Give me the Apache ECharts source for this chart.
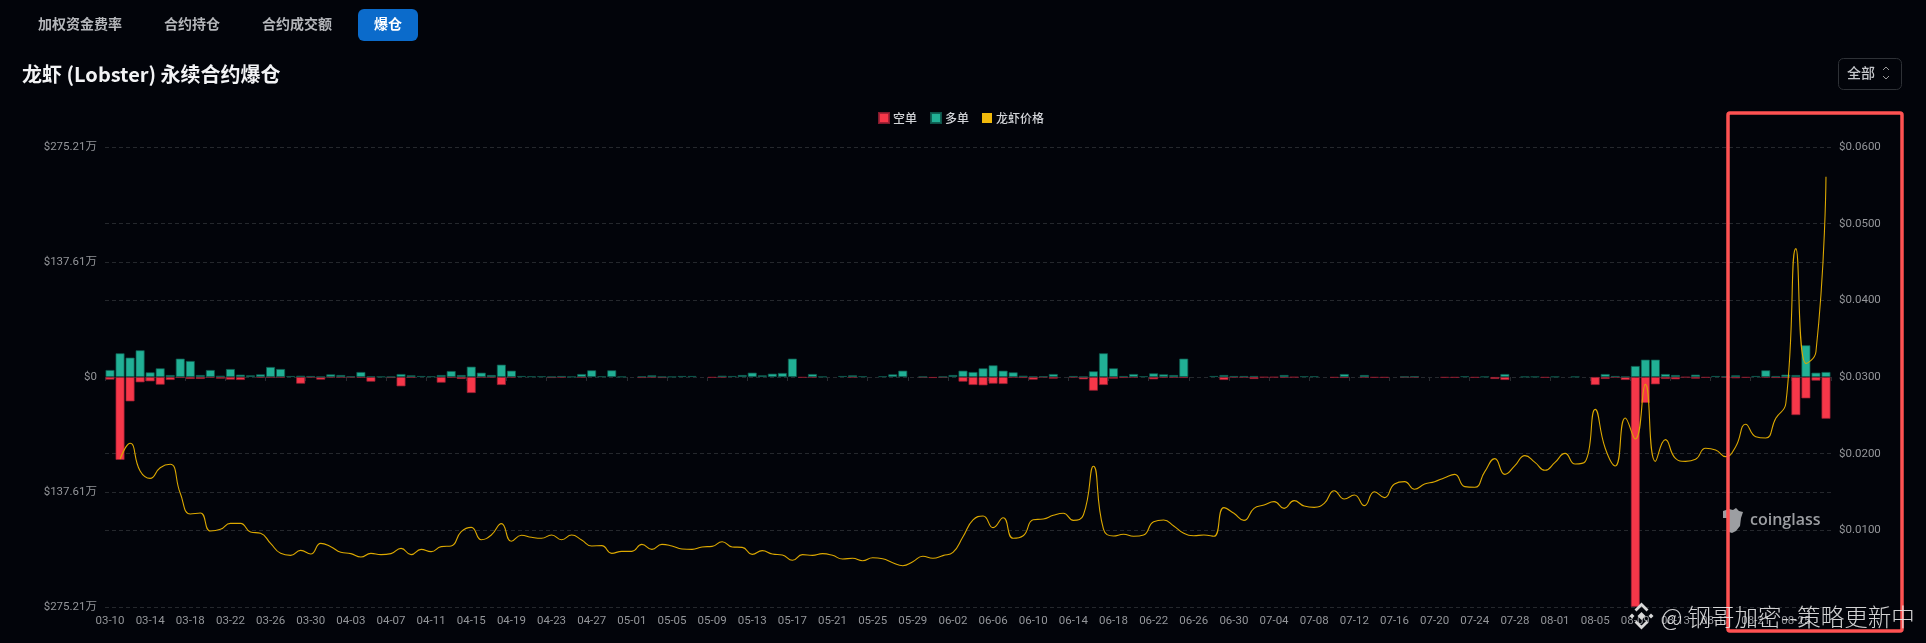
<!DOCTYPE html>
<html><head><meta charset="utf-8">
<style>html,body{margin:0;padding:0;background:#02040a;overflow:hidden}#c{width:1926px;height:643px}</style>
<script src="https://cdn.jsdelivr.net/npm/echarts@6/dist/echarts.min.js"></script>
</head><body><div id="c"></div>
<script>
const dates = ['03-10','03-11','03-12','03-13','03-14','03-15','03-16','03-17','03-18','03-19','03-20','03-21','03-22','03-23','03-24','03-25','03-26','03-27','03-28','03-29','03-30','03-31',
'04-01','04-02','04-03','04-04','04-05','04-06','04-07','04-08','04-09','04-10','04-11','04-12','04-13','04-14','04-15','04-16','04-17','04-18','04-19','04-20','04-21','04-22','04-23','04-24','04-25','04-26','04-27','04-28','04-29','04-30',
'05-01','05-02','05-03','05-04','05-05','05-06','05-07','05-08','05-09','05-10','05-11','05-12','05-13','05-14','05-15','05-16','05-17','05-18','05-19','05-20','05-21','05-22','05-23','05-24','05-25','05-26','05-27','05-28','05-29','05-30','05-31',
'06-01','06-02','06-03','06-04','06-05','06-06','06-07','06-08','06-09','06-10','06-11','06-12','06-13','06-14','06-15','06-16','06-17','06-18','06-19','06-20','06-21','06-22','06-23','06-24','06-25','06-26','06-27','06-28','06-29','06-30',
'07-01','07-02','07-03','07-04','07-05','07-06','07-07','07-08','07-09','07-10','07-11','07-12','07-13','07-14','07-15','07-16','07-17','07-18','07-19','07-20','07-21','07-22','07-23','07-24','07-25','07-26','07-27','07-28','07-29','07-30','07-31',
'08-01','08-02','08-03','08-04','08-05','08-06','08-07','08-08','08-09','08-10','08-11','08-12','08-13','08-14','08-15','08-16','08-17','08-18','08-19','08-20','08-21','08-22','08-23','08-24','08-25','08-26','08-27','08-28'];

// 单位：万美元
const shortLiq = [3.2,99.2,29.2,6.4,5.2,9.2,3.6,1.2,2.4,2.4,.8,2,3.2,3.6,0,.8,.4,.4,0,8,
.4,3.2,.4,.4,.4,.8,5.6,0,1.2,11.2,.8,0,0,6.8,.8,2.4,19.2,.4,.4,9.6,
.4,0,0,0,1.2,.4,0,.4,0,0,0,0,0,1.2,.4,1.2,0,0,0,0,
.8,.4,0,0,0,0,0,0,0,.8,.4,0,0,0,.4,0,0,0,0,0,
0,.8,1.2,.8,0,5.6,9.6,10,8,8.4,.4,1.2,3.2,.4,2,0,.4,2.8,16.4,9.6,
2,1.2,.4,0,2.8,.8,.8,1.2,0,0,0,3.6,.4,.4,2.4,.4,.4,.8,.4,0,
0,0,.8,1.2,0,.4,.8,.8,0,.4,.4,0,0,.8,.8,0,.8,0,2.4,3.6,
0,0,0,.8,0,0,0,0,9.6,2.4,.4,3.6,275,31,8.8,2.4,2.8,.4,2,.8,
0,.4,1.6,.8,0,.4,1.2,1.2,45.6,25.6,4.4,50];

const longLiq = [8.4,28.4,23.2,32,5.6,10.4,2.4,22,19.2,2.4,8.4,1.6,9.6,2.8,2,3.2,12,9.6,1.2,1.6,
1.2,.4,3.2,2.4,.8,6,.8,.4,.4,3.6,2,1.2,.8,2.4,7.2,2.4,12.4,5.2,2.4,14.8,
7.6,1.2,.8,.8,.4,1.2,.4,3.6,8,.8,8,.4,0,.8,2,.4,.4,1.2,1.2,0,
0,1.6,1.2,2.4,5.2,2,4,4.8,22,0,3.6,.4,0,1.2,2,.8,0,.8,3.2,7.6,
0,.4,0,.4,2.4,7.6,6,10.4,14,7.6,5.6,1.6,.8,.8,3.6,0,1.2,.4,6.8,28.4,
10.4,1.2,3.6,.8,4.4,3.2,2.4,22,0,0,1.2,2.4,1.2,1.2,1.2,0,0,2.4,0,.8,
.8,0,0,3.6,0,2.4,0,0,0,.4,.8,0,0,0,0,.8,0,.4,0,3.6,
0,.4,.4,0,.4,0,.4,0,0,3.6,1.2,.4,13.2,20.8,20.8,3.6,2.4,0,2.8,0,
1.2,.8,2,0,1.2,8,1.2,2.8,2.4,38,5.2,6];

const price = [null,.01930,.02135,.01774,.01678,.01817,.01861,.01483,.01213,.01226,.00991,.01013,.01091,.01091,.00978,.00961,.00830,.00700,.00674,.00739,
.00691,.00830,.00787,.00713,.00696,.00652,.00700,.00683,.00696,.00765,.00683,.00752,.00722,.00787,.00796,.00983,.01039,.00878,.00939,.01087,
.00857,.00935,.00909,.00896,.00939,.00878,.00939,.00874,.00796,.00800,.00700,.00726,.00726,.00817,.00752,.00817,.00796,.00757,.00752,.00783,
.00791,.00852,.00783,.00778,.00687,.00735,.00691,.00678,.00609,.00683,.00674,.00696,.00674,.00626,.00635,.00604,.00643,.00630,.00578,.00539,
.00591,.00661,.00635,.00670,.00713,.00917,.01135,.01187,.01035,.01165,.00896,.00930,.01139,.01148,.01196,.01222,.01130,.01200,.01835,.01017,
.00926,.00948,.00922,.00939,.01113,.01135,.01057,.00961,.00930,.00939,.00922,.01296,.01222,.01130,.01287,.01330,.01374,.01287,.01387,.01317,
.01300,.01352,.01517,.01409,.01461,.01322,.01504,.01426,.01604,.01635,.01535,.01604,.01635,.01687,.01730,.01570,.01561,.01765,.01935,.01730,
.01843,.01974,.01887,.01783,.01887,.02004,.01865,.01896,.02578,.02070,.01839,.02465,.02191,.02904,.01900,.02183,.01939,.01900,.01926,.02070,
.02048,.01961,.02091,.02383,.02222,.02204,.02461,.02657,.04674,.03178,.03330,.05613];

const leftTickLabels = ['$0','$137.61万','$275.21万'];
const leftMax = 275.21;
const leftStep = 137.605;
const rightMax = 0.06;
const rightStep = 0.01;

const BG='#02040a', GRID='#25282d', AXIS='#94969a', RED='#f63749', GREEN='#21b095', GOLD='#f0b90b';
const FONT='Roboto, "Noto Sans CJK SC", sans-serif';
const CJK='"Noto Sans CJK SC", "Noto Sans", sans-serif';

function tab(text,x,y,color,weight){return {type:'text',z:5,style:{text,x,y,fill:color,font:`${weight} 14px ${CJK}`,textVerticalAlign:'middle'}};}
function chevron(pts){return {type:'polyline',z:5,shape:{points:pts},style:{stroke:'#9a9a9a',lineWidth:1,fill:null}};}

const graphics=[
 tab('加权资金费率',38,24,'#b4b6ba',700),
 tab('合约持仓',164,24,'#b4b6ba',700),
 tab('合约成交额',262,24,'#b4b6ba',700),
 {type:'rect',z:4,shape:{x:358,y:9,width:60,height:32,r:6},style:{fill:'#0b6bcb'}},
 tab('爆仓',374,24,'#ffffff',700),
 {type:'rect',z:4,shape:{x:1838.5,y:58.5,width:63,height:31,r:5},style:{fill:'transparent',stroke:'#2e3136',lineWidth:1}},
 {type:'text',z:5,style:{text:'全部',x:1847,y:73,fill:'#c4c6ca',font:`500 14px ${CJK}`,textVerticalAlign:'middle'}},
 chevron([[1883,70],[1886,67],[1889,70]]),
 chevron([[1883,76],[1886,79],[1889,76]]),
 // coinglass
 {type:'polygon',z:3,shape:{points:[[1723,511],[1729,509],[1733,510],[1736,508],[1739,511],[1743,512],[1741,518],[1740,526],[1736,531],[1732,533],[1729,532],[1729,523],[1727,518],[1723,518]]},style:{fill:'#9c9ea2'}},
 {type:'text',z:3,style:{text:'coinglass',x:1750,y:520,fill:'#9c9ea2',font:`600 16px "Open Sans", ${CJK}`,textVerticalAlign:'middle'}},
 // 红框
 {type:'rect',z:6,shape:{x:1728,y:113,width:174,height:518,r:2},style:{fill:'transparent',stroke:'#ff5252',lineWidth:3.5}},
 // 水印
 {type:'text',z:7,style:{text:'@ 钢哥加密--策略更新中',x:1661,y:617,fill:'rgba(238,238,238,.88)',font:`300 23.5px ${CJK}`,textVerticalAlign:'middle'}},
 {type:'polygon',z:7,shape:{points:[[1641.5,612],[1645.5,616],[1641.5,620],[1637.5,616]]},style:{fill:'#d8d8d8'}},
 {type:'polygon',z:7,shape:{points:[[1632,613.5],[1634.5,616],[1632,618.5],[1629.5,616]]},style:{fill:'#d8d8d8'}},
 {type:'polygon',z:7,shape:{points:[[1651,613.5],[1653.5,616],[1651,618.5],[1648.5,616]]},style:{fill:'#d8d8d8'}},
 {type:'polyline',z:7,shape:{points:[[1635.5,610.5],[1641.5,604.5],[1647.5,610.5]]},style:{stroke:'#d8d8d8',lineWidth:2.8,fill:null}},
 {type:'polyline',z:7,shape:{points:[[1635.5,621.5],[1641.5,627.5],[1647.5,621.5]]},style:{stroke:'#d8d8d8',lineWidth:2.8,fill:null}}
];

const chart=echarts.init(document.getElementById('c'),null,{width:1926,height:643});
chart.setOption({
 animation:false,
 backgroundColor:BG,
 title:{text:'龙虾 (Lobster) 永续合约爆仓',left:22,top:64,padding:0,textStyle:{color:'#f2f3f5',fontSize:20,fontWeight:700,fontFamily:CJK}},
 legend:{left:873,top:107,itemWidth:10,itemHeight:10,itemGap:13,selectedMode:false,icon:'rect',
  textStyle:{color:'#d2d4d8',fontSize:12,fontWeight:500,fontFamily:CJK,padding:[0,0,0,-1]},
  data:['空单','多单','龙虾价格']},
 grid:{left:105,right:95,top:147,height:460},
 xAxis:[
  {type:'category',data:dates,position:'bottom',axisLine:{show:false,onZero:false},axisTick:{show:false},splitLine:{show:false},
   axisLabel:{interval:3,color:AXIS,fontSize:11.5,fontFamily:FONT,margin:8}},
  {type:'category',data:dates,position:'bottom',axisLine:{show:false,onZero:true},axisTick:{show:true,interval:3,length:4,lineStyle:{color:'#2a2d32'}},axisLabel:{show:false},splitLine:{show:false}}
 ],
 yAxis:[
  {type:'value',min:-leftMax,max:leftMax,interval:leftStep,position:'left',axisLine:{show:false},axisTick:{show:false},
   splitLine:{show:true,lineStyle:{color:GRID,type:[4,3],width:1}},
   axisLabel:{color:AXIS,fontSize:11.5,fontFamily:FONT,margin:8,formatter:v=>leftTickLabels[Math.round(Math.abs(v)/leftStep)]}},
  {type:'value',min:0,max:rightMax,interval:rightStep,position:'right',axisLine:{show:false},axisTick:{show:false},
   splitLine:{show:true,lineStyle:{color:GRID,type:[4,3],width:1}},
   axisLabel:{color:AXIS,fontSize:11.5,fontFamily:FONT,margin:8,formatter:v=>v===0?'':'$'+v.toFixed(4)}}
 ],
 series:[
  {name:'空单',type:'bar',stack:'liq',barWidth:9,data:shortLiq.map(v=>v?-v:null),itemStyle:{color:RED,borderColor:'rgba(150,30,50,.85)',borderWidth:.8}},
  {name:'多单',type:'bar',stack:'liq',barWidth:9,data:longLiq.map(v=>v||null),itemStyle:{color:GREEN,borderColor:'rgba(14,90,78,.9)',borderWidth:.8}},
  {name:'龙虾价格',type:'line',yAxisIndex:1,data:price,smooth:true,showSymbol:false,symbol:'none',connectNulls:false,
   lineStyle:{color:'#dca800',width:1.1},itemStyle:{color:GOLD},z:4}
 ],
 graphic:graphics
});
</script></body></html>
